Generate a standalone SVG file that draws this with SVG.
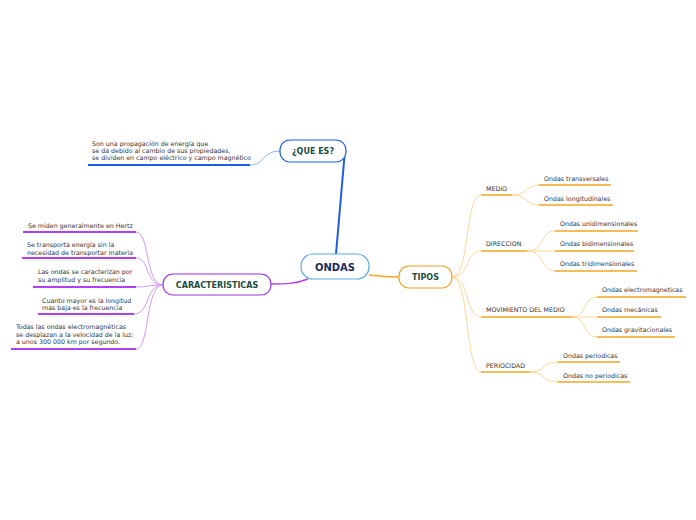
<svg xmlns="http://www.w3.org/2000/svg" width="696" height="520" viewBox="0 0 696 520">
<style>
.t{font-family:"DejaVu Sans",Verdana,sans-serif;font-size:6.3px;fill:#333}
.h{font-family:"DejaVu Sans",Verdana,sans-serif;font-size:8px;font-weight:bold;fill:#1b4d3e;text-anchor:middle}
.b{stroke:#1e5ee0;fill:none}
.p{stroke:#b040f0;fill:none}
.o{stroke:#f5a623;fill:none}
.lo{stroke:#fdd79a;fill:none;stroke-width:1}
.lp{stroke:#d49af5;fill:none;stroke-width:1}
</style>
<rect width="696" height="520" fill="#fff"/>
<g id="connectors">
<path class="b" d="M336,254 L345,150" stroke-width="2"/>
<path class="p" d="M308,279 C295,284 285,284 271,284" stroke-width="1.5"/>
<path class="o" d="M369,275 C385,277 390,277 399,277" stroke-width="1.5"/>
<path d="M250,165 C265,165 262,151 280,151" stroke="#8ab0f0" fill="none"/>
<path class="lp" d="M163,285 C145,285 150,232 136,232"/>
<path class="lp" d="M163,285 C145,285 150,258 136,258"/>
<path class="lp" d="M163,285 C150,285 148,287 136,287"/>
<path class="lp" d="M163,285 C145,285 150,314 134,314"/>
<path class="lp" d="M163,285 C145,285 150,349 136,349"/>
<path class="lo" d="M452,277 C470,277 465,195 481,195"/>
<path class="lo" d="M452,277 C470,277 465,251 481,251"/>
<path class="lo" d="M452,277 C470,277 465,317 481,317"/>
<path class="lo" d="M452,277 C470,277 465,372 481,372"/>
<path class="lo" d="M512,195 C528,195 525,185 539,185"/>
<path class="lo" d="M512,195 C528,195 525,205 539,205"/>
<path class="lo" d="M527,251 C545,251 540,231 555,231"/>
<path class="lo" d="M527,251 L555,251"/>
<path class="lo" d="M527,251 C545,251 540,271 555,271"/>
<path class="lo" d="M572,317 C588,317 582,297 597,297"/>
<path class="lo" d="M572,317 L597,317"/>
<path class="lo" d="M572,317 C588,317 582,337 597,337"/>
<path class="lo" d="M530,372 C546,372 542,362 558,362"/>
<path class="lo" d="M530,372 C546,372 542,382 558,382"/>
</g>
<g id="ondas"><rect x="301" y="254" width="68" height="25" rx="12" fill="#fff" stroke="#5aa8e0" stroke-width="1.2"/><text x="335" y="271" class="h" style="font-size:10px;fill:#1a2a5a">ONDAS</text></g>
<g id="quees"><rect x="280" y="140" width="66" height="22" rx="10" fill="#fff" stroke="#1e5ee0" stroke-width="1.2"/><text x="313" y="154" class="h">¿QUE ES?</text></g>
<g id="caract"><rect x="163" y="274" width="108" height="21" rx="10" fill="#fff" stroke="#9b30e0" stroke-width="1.2"/><text x="217" y="288" class="h">CARACTERISTICAS</text></g>
<g id="tipos"><rect x="399" y="266" width="53" height="22" rx="10" fill="#fff" stroke="#f0a020" stroke-width="1.2"/><text x="425.5" y="280" class="h">TIPOS</text></g>
<g id="def"><text class="t" x="92" y="146">Son una propagación de energía que</text><text class="t" x="92" y="153">se da debido al cambio de sus propiedades,</text><text class="t" x="92" y="160">se dividen en campo eléctrico y campo magnético</text><path class="b" d="M88,165 H250" stroke-width="2"/></g>
<g id="c1"><text class="t" x="28" y="228">Se miden generalmente en Hertz</text><path class="p" d="M23,232 H136" stroke-width="2"/></g>
<g id="c2"><text class="t" x="27" y="247">Se transporta energía sin la</text><text class="t" x="27" y="255">necesidad de transportar materia</text><path class="p" d="M22,258 H136" stroke-width="2"/></g>
<g id="c3"><text class="t" x="38" y="274">Las ondas se caracterizan por</text><text class="t" x="38" y="282">su amplitud y su frecuencia</text><path class="p" d="M33,287 H136" stroke-width="2"/></g>
<g id="c4"><text class="t" x="42" y="303">Cuanto mayor es la longitud</text><text class="t" x="42" y="310">mas baja es la frecuencia</text><path class="p" d="M38,314 H134" stroke-width="2"/></g>
<g id="c5"><text class="t" x="16" y="329">Todas las ondas electromagnéticas</text><text class="t" x="16" y="337">se desplazan a la velocidad de la luz:</text><text class="t" x="16" y="344">a unos 300 000 km por segundo.</text><path class="p" d="M11,349 H136" stroke-width="2"/></g>
<g id="medio"><text class="t" x="486" y="191">MEDIO</text><path class="o" d="M481,195 H512" stroke-width="1.5"/></g>
<g id="m1"><text class="t" x="544" y="181">Ondas transversales</text><path class="o" d="M539,185 H611" stroke-width="1.5"/></g>
<g id="m2"><text class="t" x="544" y="201">Ondas longitudinales</text><path class="o" d="M539,205 H613" stroke-width="1.5"/></g>
<g id="direccion"><text class="t" x="486" y="246">DIRECCION</text><path class="o" d="M481,251 H527" stroke-width="1.5"/></g>
<g id="d1"><text class="t" x="560" y="226">Ondas unidimensionales</text><path class="o" d="M555,231 H638" stroke-width="1.5"/></g>
<g id="d2"><text class="t" x="560" y="246">Ondas bidimensionales</text><path class="o" d="M555,251 H634" stroke-width="1.5"/></g>
<g id="d3"><text class="t" x="560" y="266">Ondas tridimensionales</text><path class="o" d="M555,271 H637" stroke-width="1.5"/></g>
<g id="mov"><text class="t" x="486" y="312">MOVIMIENTO DEL MEDIO</text><path class="o" d="M481,317 H572" stroke-width="1.5"/></g>
<g id="v1"><text class="t" x="602" y="292">Ondas electromagneticas</text><path class="o" d="M597,297 H686" stroke-width="1.5"/></g>
<g id="v2"><text class="t" x="602" y="312">Ondas mecánicas</text><path class="o" d="M597,317 H661" stroke-width="1.5"/></g>
<g id="v3"><text class="t" x="602" y="332">Ondas gravitacionales</text><path class="o" d="M597,337 H675" stroke-width="1.5"/></g>
<g id="period"><text class="t" x="486" y="368">PERIOCIDAD</text><path class="o" d="M481,372 H530" stroke-width="1.5"/></g>
<g id="p1"><text class="t" x="563" y="358">Ondas periodicas</text><path class="o" d="M558,362 H620" stroke-width="1.5"/></g>
<g id="p2"><text class="t" x="563" y="378">Ondas no periodicas</text><path class="o" d="M558,382 H630" stroke-width="1.5"/></g>
</svg>
